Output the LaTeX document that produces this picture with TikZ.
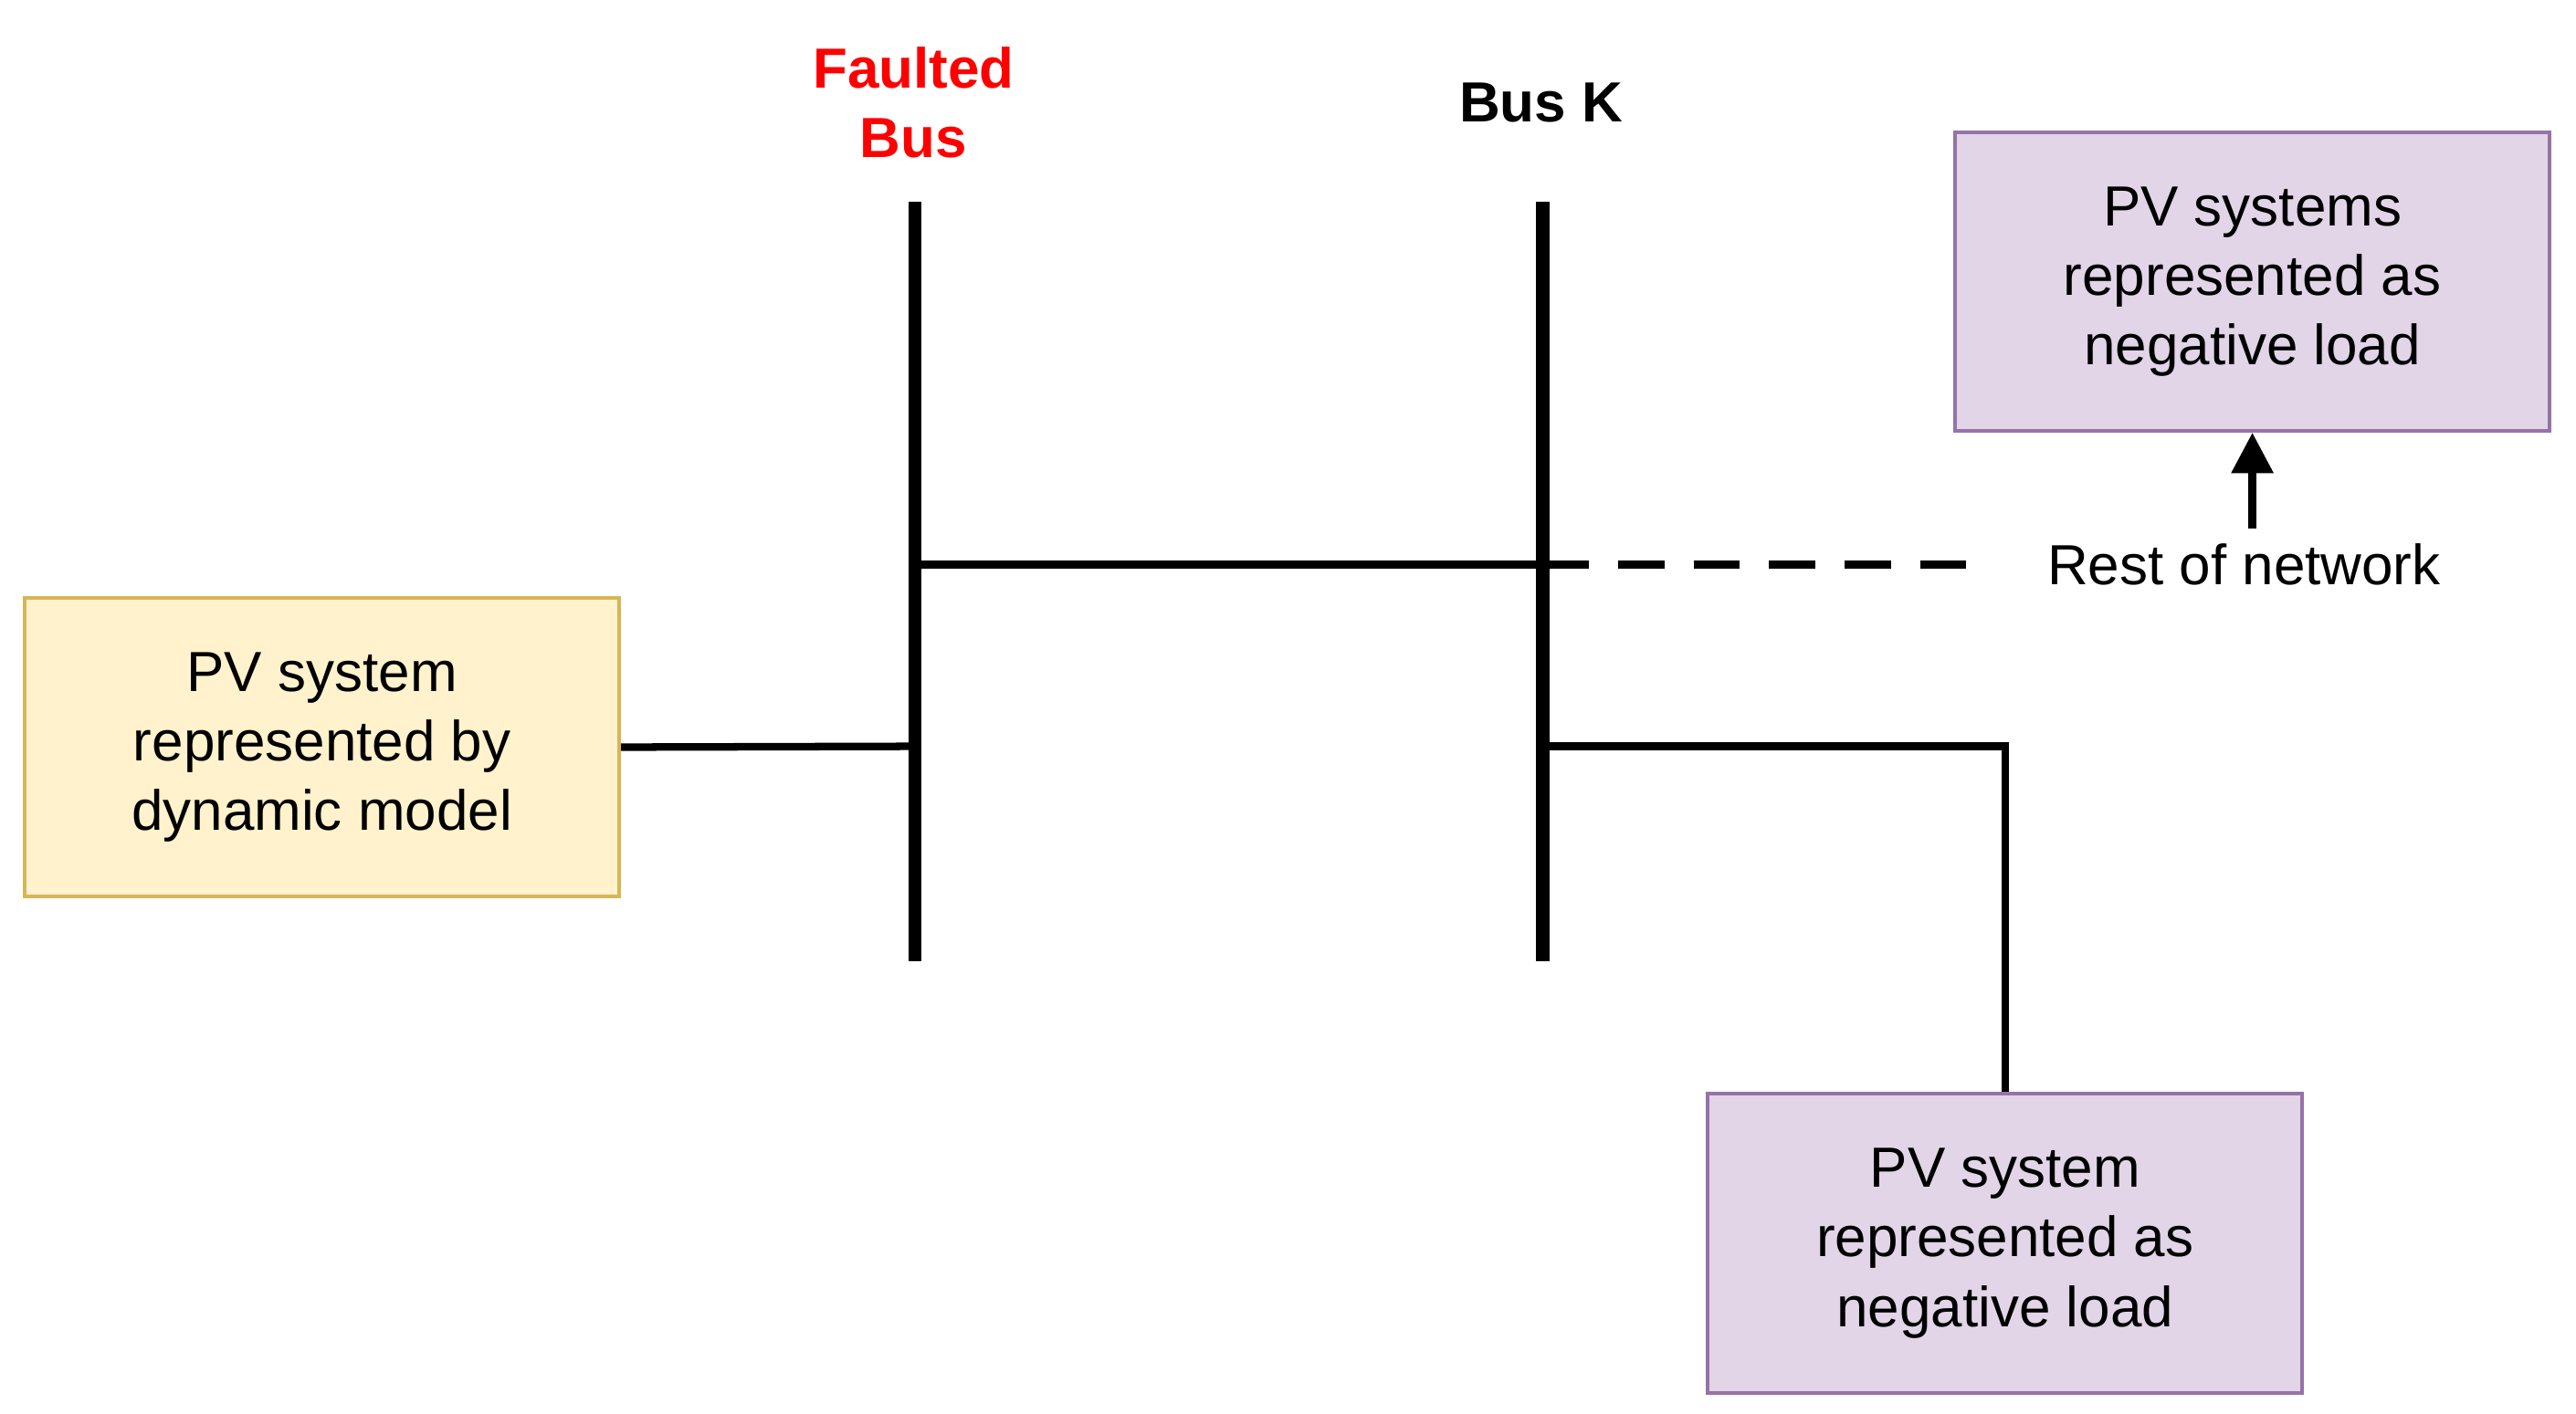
\documentclass[tikz,border=0pt]{standalone}
\usepackage{fontspec}
\setmainfont{Liberation Sans}
\usetikzlibrary{arrows.meta}
\definecolor{yfill}{HTML}{FFF2CC}\definecolor{ydraw}{HTML}{D6B656}
\definecolor{pfill}{HTML}{E1D5E7}\definecolor{pdraw}{HTML}{9673A6}
\begin{document}
\begin{tikzpicture}[x=0.0199cm,y=-0.02cm,
  box/.style={draw,line width=1.2pt,minimum width=7.2cm,minimum height=3.62cm,align=center,font=\fontsize{19.5}{24}\selectfont,inner sep=0pt},
  ybox/.style={box,fill=yfill,draw=ydraw},
  pbox/.style={box,fill=pfill,draw=pdraw},
  bus/.style={line width=4.6pt},
  wire/.style={line width=2.6pt},
  lbl/.style={font=\bfseries\fontsize{19.5}{24}\selectfont,align=center}]
\useasboundingbox (0,0) rectangle (1568,856);
\node[ybox] (pvd) at (196,452.5) {PV system\\represented by\\dynamic model};
\node[pbox] (pvb) at (1220.5,753) {PV system\\represented as\\negative load};
\node[pbox] (pvt) at (1371,170.5) {PV systems\\represented as\\negative load};
\coordinate (fbT) at (557,122); \coordinate (fbB) at (557,582);
\coordinate (bkT) at (939,122); \coordinate (bkB) at (939,582);
\draw[bus] (fbT) -- (fbB);
\draw[bus] (bkT) -- (bkB);
\node[lbl,text=red] (fl) at (556,62) {Faulted\\Bus};
\node[lbl] (bkl) at (938,62) {Bus K};
\node[font=\fontsize{19.5}{24}\selectfont,anchor=west] (rest) at (1240,342) {Rest of network};
\draw[wire] (557,342) -- (939,342);
\draw[wire,dash pattern=on 16pt off 10pt] (939,342) -- (1213,342);
\draw[wire] (pvd.east) -- (557,452);
\draw[wire] (939,452) -| (pvb.north);
\draw[wire,-{Triangle[length=14pt,width=14pt]}] (1371,320) -- (pvt.south);
\end{tikzpicture}
\end{document}
